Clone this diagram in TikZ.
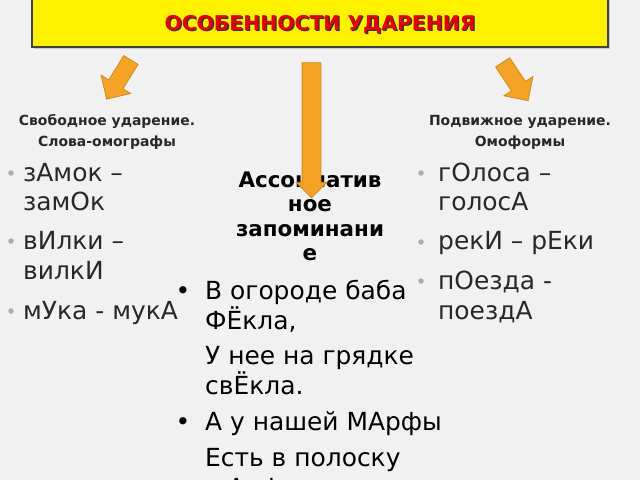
\documentclass[tikz,border=0pt]{standalone}
\usepackage{fontspec}
\setmainfont{DejaVu Sans}
\usetikzlibrary{shapes.arrows,shadows}
\definecolor{slidebg}{RGB}{241,241,241}
\definecolor{titlered}{RGB}{228,0,0}
\definecolor{arroworange}{RGB}{243,163,38}
\definecolor{arrowedge}{RGB}{210,138,30}
\definecolor{bulletgray}{RGB}{165,175,175}
\definecolor{textgray}{RGB}{40,40,40}
\newcommand\shadowed[1]{\makebox[0pt][l]{\hspace{1.3bp}\raisebox{-1.3bp}{\color{black!80}#1}}#1}

\begin{document}
\begin{tikzpicture}[x=1bp,y=-1bp,
      title box/.style={draw=black!75,line width=2bp,fill=yellow,minimum width=576bp,minimum height=50bp,
        drop shadow={shadow xshift=2bp,shadow yshift=-2bp,fill=black!35}},
      block arrow/.style={single arrow,fill=arroworange,draw=arrowedge,line width=0.8bp,inner xsep=0pt,
        single arrow head indent=0pt},
      sub head/.style={font=\bfseries\fontsize{14}{22}\selectfont,text=textgray,align=center,inner sep=0pt,anchor=base},
      item/.style={font=\fontsize{25}{30}\selectfont,text=textgray,align=left,inner sep=0pt,anchor=base west},
      gray dot/.style={circle,fill=bulletgray,minimum size=5.5bp,inner sep=0pt},
      black dot/.style={font=\fontsize{25}{30}\selectfont,inner sep=0pt,anchor=base}]

      \useasboundingbox[fill=slidebg] (0,0) rectangle (640,480);

      % title
      \node[title box] (title) at (320,22) {};
      \node[font=\bfseries\fontsize{20.4}{22}\selectfont,text=titlered] (titletext) at (320,25) {\shadowed{ОСОБЕННОСТИ УДАРЕНИЯ}};

      % side arrows
      \node[block arrow,minimum height=46bp,inner ysep=8bp,single arrow head extend=9bp,rotate=-121.8] (leftarrow) at (121,76) {};
      \node[block arrow,minimum height=46bp,inner ysep=8bp,single arrow head extend=9bp,rotate=-56.3] (rightarrow) at (513,78) {};

      % left column (base = last line)
      \node[sub head] (freehead) at (107,147) {Свободное ударение.\\Слова-омографы};
      \node[gray dot] (ldot1) at (11,173) {};
      \node[gray dot] (ldot2) at (11,241) {};
      \node[gray dot] (ldot3) at (11,311) {};
      \node[item] (zamok) at (23,211) {зАмок –\\замОк};
      \node[item] (vilki) at (23,279) {вИлки –\\вилкИ};
      \node[item] (muka) at (23,319) {мУка - мукА};

      % right column
      \node[sub head] (movehead) at (520,147) {Подвижное ударение.\\Омоформы};
      \node[gray dot] (rdot1) at (421,173) {};
      \node[gray dot] (rdot2) at (421,242) {};
      \node[gray dot] (rdot3) at (421,281) {};
      \node[item] (golosa) at (438,211) {гОлоса –\\голосА};
      \node[item] (reki) at (438,250) {рекИ – рЕки};
      \node[item] (poezda) at (438,319) {пОезда -\\поездА};

      % middle column
      \node[font=\bfseries\fontsize{21.5}{24.5}\selectfont,text=black,align=center,inner sep=0pt,anchor=base] (assochead) at (310,260.5)
        {Ассоциатив\\ное\\запоминани\\е};
      \node[block arrow,minimum height=135bp,inner ysep=9bp,single arrow head extend=6bp,rotate=-90] (midarrow) at (311.5,125.5) {};
      \node[black dot] (mdot1) at (183,299) {•};
      \node[black dot] (mdot2) at (183,430) {•};
      \node[item,text=black] (fekla) at (205,329) {В огороде баба\\ФЁкла,};
      \node[item,text=black] (svekla) at (205,394) {У нее на грядке\\свЁкла.};
      \node[item,text=black] (marfa) at (205,430) {А у нашей МАрфы};
      \node[item,text=black] (sharfy) at (205,496) {Есть в полоску\\шАрфы.};
    \end{tikzpicture}
\end{document}
